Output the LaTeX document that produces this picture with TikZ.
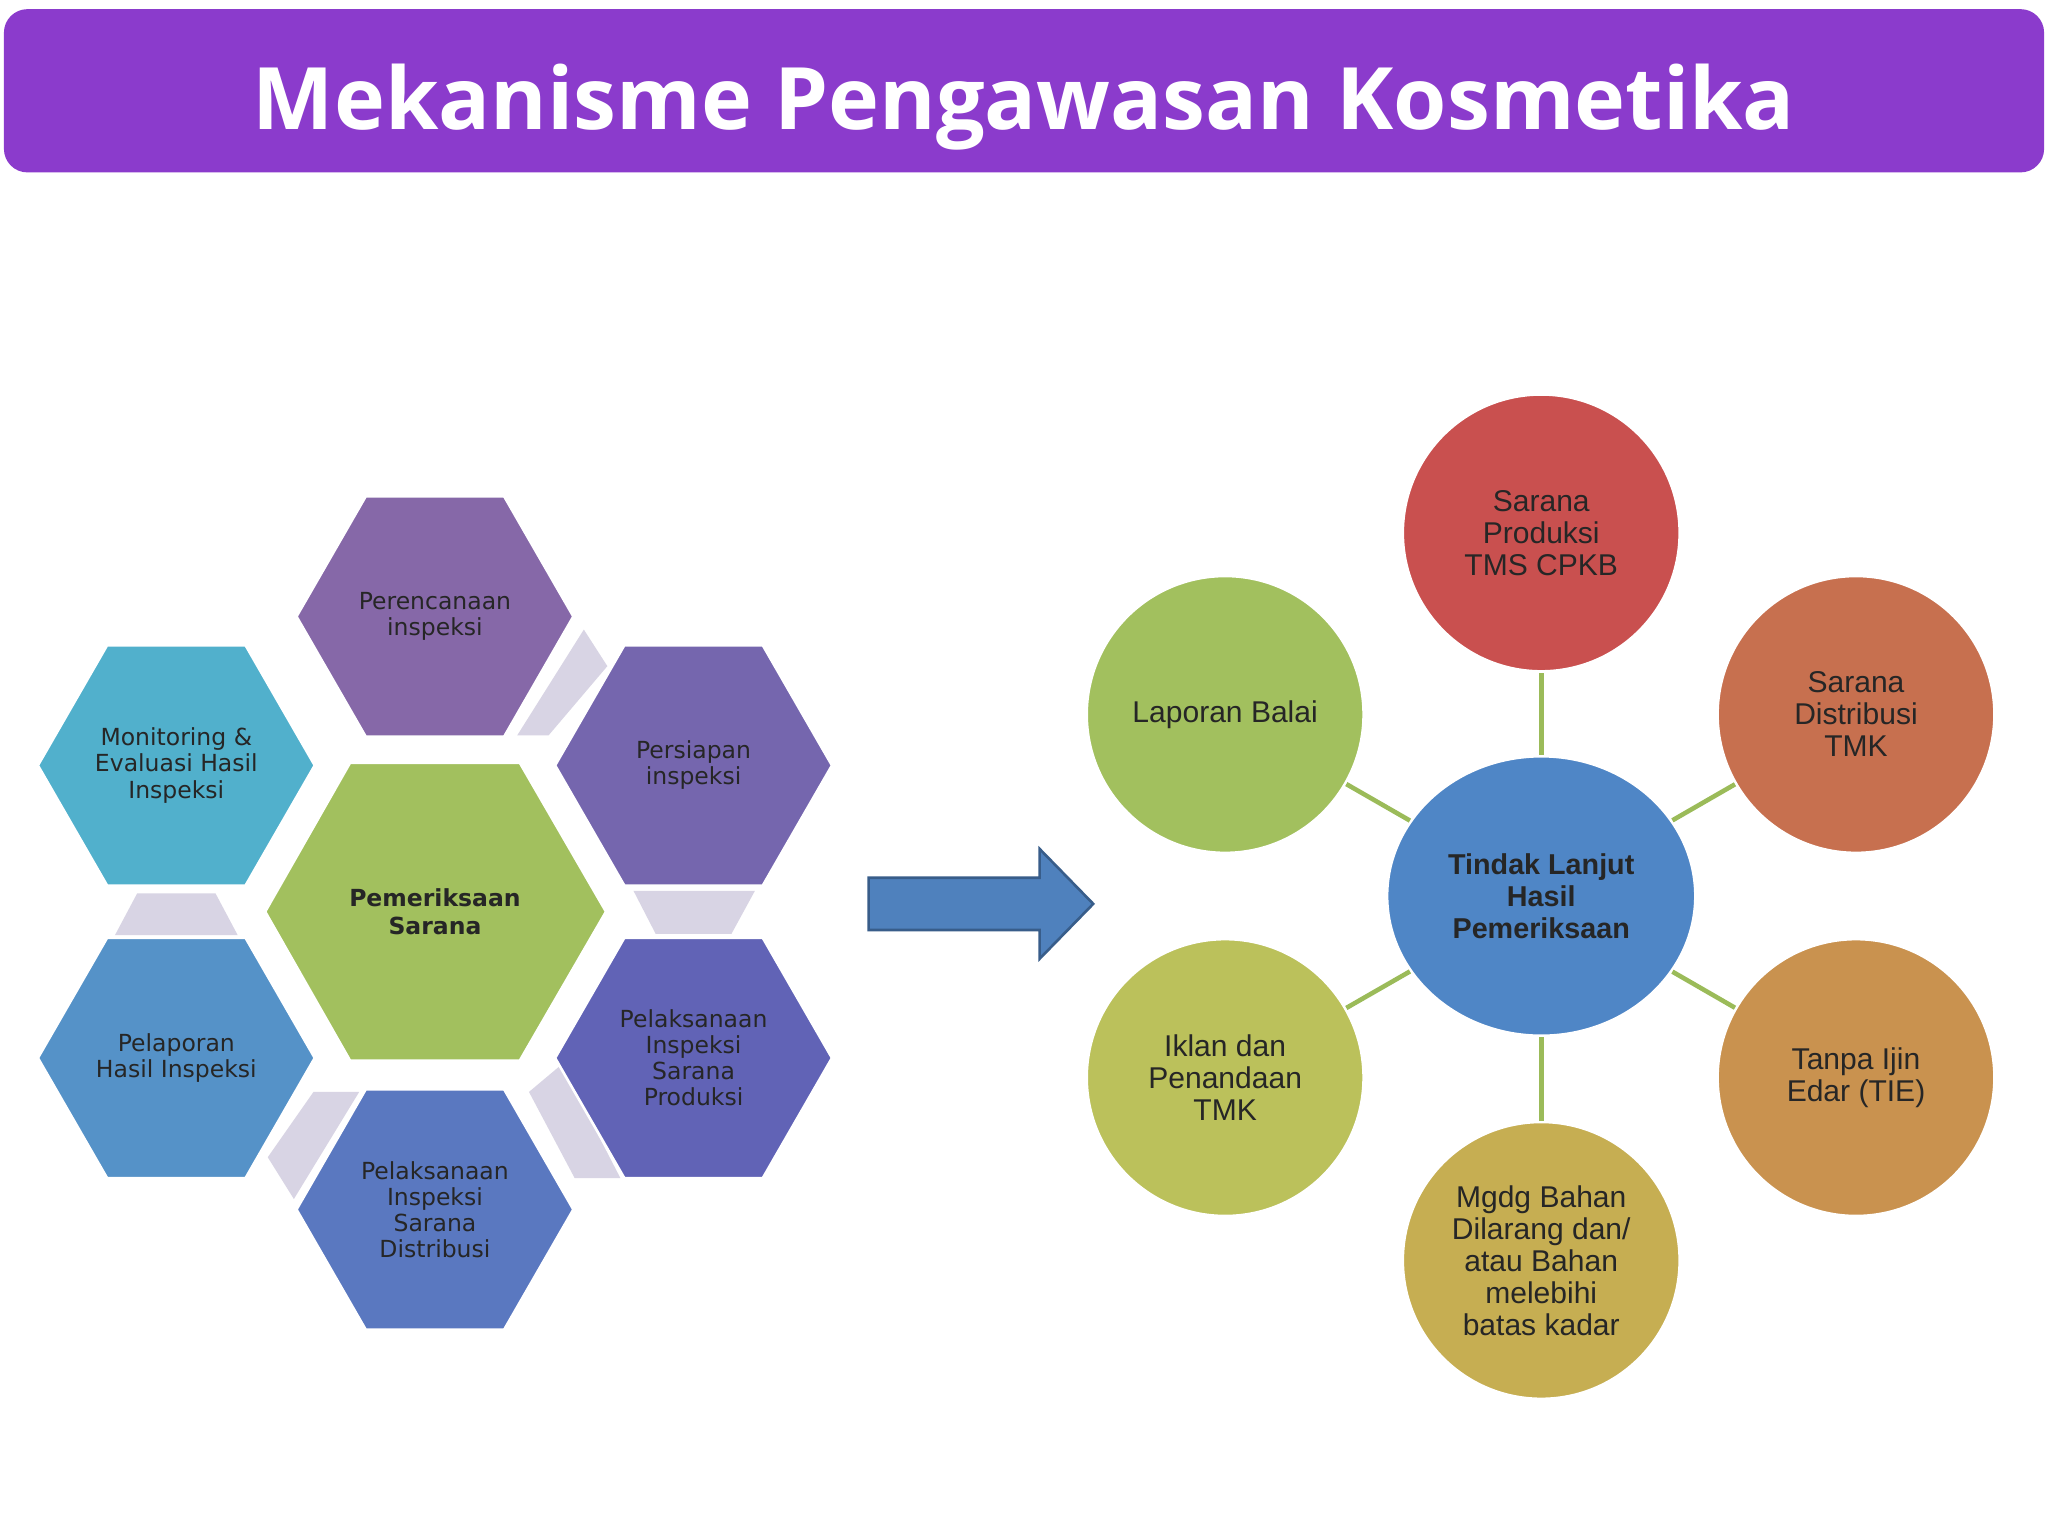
\documentclass[tikz,border=0pt]{standalone}
\usepackage{fontspec}
\usetikzlibrary{shapes.geometric}
\setmainfont{Liberation Sans}
\newfontfamily\titlef{Open Sans}
\newfontfamily\hexf{DejaVu Sans}
\begin{document}
\begin{tikzpicture}[x=1pt,y=-1pt,
  hexs/.style={draw=white,line width=2pt,fill=#1},
  hext/.style={font=\hexf\fontsize{18}{20}\selectfont,align=center,text=black!85,inner sep=0},
  circ/.style={circle,minimum size=212pt,fill=#1,draw=white,line width=2pt,
     font=\fontsize{23}{24.5}\selectfont,align=center,text=black!85,inner sep=0},
  conn/.style={draw=grn,line width=3.5pt}]
\definecolor{lav}{HTML}{D8D4E4}
\definecolor{grn}{HTML}{9BBB59}
\useasboundingbox (0,0) rectangle (1568,1176);
\fill[white] (0,0) rectangle (1568,1176);
% title
\node[fill={rgb,255:red,139;green,59;blue,204},rounded corners=18pt,minimum width=1562pt,minimum height=125pt,inner sep=0] (title) at (784,69.5) {};
\node[font=\titlef\bfseries\fontsize{66}{70}\selectfont,text=white] (tt) at (784,82) {Mekanisme Pengawasan Kosmetika};
% lavender links
\fill[lav] (447,482) -- (465,510) -- (420,563) -- (396,563) -- cycle;
\fill[lav] (88,716) -- (182,716) -- (165,684) -- (105,684) -- cycle;
\fill[lav] (485,682) -- (578,682) -- (560,715) -- (502,715) -- cycle;
\fill[lav] (240,836) -- (275,836) -- (225,918) -- (205,886) -- cycle;
\fill[lav] (405,836) -- (430,815) -- (475,902) -- (440,902) -- cycle;
% hexagons
\foreach \n/\cx/\cy/\col in {h1/333/472/8668A8,h2/531/586/7566AE,h3/531/810/6163B6,h4/333/926/5A78C0,h5/135/810/5592C8,h6/135/586/51B0CC}{
  \definecolor{hc}{HTML}{\col}
  \draw[hexs=hc] (\cx+106,\cy) -- (\cx+53,\cy+92) -- (\cx-53,\cy+92) -- (\cx-106,\cy) -- (\cx-53,\cy-92) -- (\cx+53,\cy-92) -- cycle;
}
\coordinate (h1) at (333,472);
\coordinate (h2) at (531,586);
\coordinate (h3) at (531,810);
\coordinate (h4) at (333,926);
\coordinate (h5) at (135,810);
\coordinate (h6) at (135,586);
\definecolor{hcc}{HTML}{A2C05E}
\draw[hexs=hcc] (464,698) -- (398,812) -- (268,812) -- (203,698) -- (268,584) -- (398,584) -- cycle;
\coordinate (hc) at (333,698);
\node[hext] (t1) at (h1) {Perencanaan\\inspeksi};
\node[hext] (t2) at (h2) {Persiapan\\inspeksi};
\node[hext] (t3) at (h3) {Pelaksanaan\\Inspeksi\\Sarana\\Produksi};
\node[hext] (t4) at (h4) {Pelaksanaan\\Inspeksi\\Sarana\\Distribusi};
\node[hext] (t5) at (h5) {Pelaporan\\Hasil Inspeksi};
\node[hext] (t6) at (h6) {Monitoring \&\\Evaluasi Hasil\\Inspeksi};
\node[hext,font=\hexf\bfseries\fontsize{18}{22}\selectfont] (tc) at (hc) {Pemeriksaan\\Sarana};
% arrow
\draw[fill={rgb,255:red,79;green,129;blue,189},draw={rgb,255:red,56;green,93;blue,138},line width=2pt]
  (665,672) -- (796,672) -- (796,650) -- (837,692) -- (796,734) -- (796,712) -- (665,712) -- cycle;
% circles
\definecolor{c0}{HTML}{4F86C6}
\definecolor{c1}{HTML}{C9504F}
\definecolor{c2}{HTML}{C7704F}
\definecolor{c3}{HTML}{C9924F}
\definecolor{c4}{HTML}{C6AE52}
\definecolor{c5}{HTML}{BBC15B}
\definecolor{c6}{HTML}{A2C05E}
\node[circ=c1] (s1) at (1180,408) {Sarana\\Produksi\\TMS CPKB};
\node[circ=c2] (s2) at (1421,547) {Sarana\\Distribusi\\TMK};
\node[circ=c3] (s3) at (1421,825) {Tanpa Ijin\\Edar (TIE)};
\node[circ=c4] (s4) at (1180,965) {Mgdg Bahan\\Dilarang dan/\\atau Bahan\\melebihi\\batas kadar};
\node[circ=c5] (s5) at (938,825) {Iklan dan\\Penandaan\\TMK};
\node[circ=c6] (s6) at (938,547) {Laporan Balai};
\node[ellipse,minimum width=236pt,minimum height=214pt,fill=c0,draw=white,line width=2pt,inner sep=0,
  font=\bfseries\fontsize{22}{24.5}\selectfont,align=center,text=black!85] (c) at (1180,686) {Tindak Lanjut\\Hasil\\Pemeriksaan};
\foreach \s in {s1,s2,s3,s4,s5,s6}{
  \draw[conn] (c) -- (\s);
}
\end{tikzpicture}
\end{document}
